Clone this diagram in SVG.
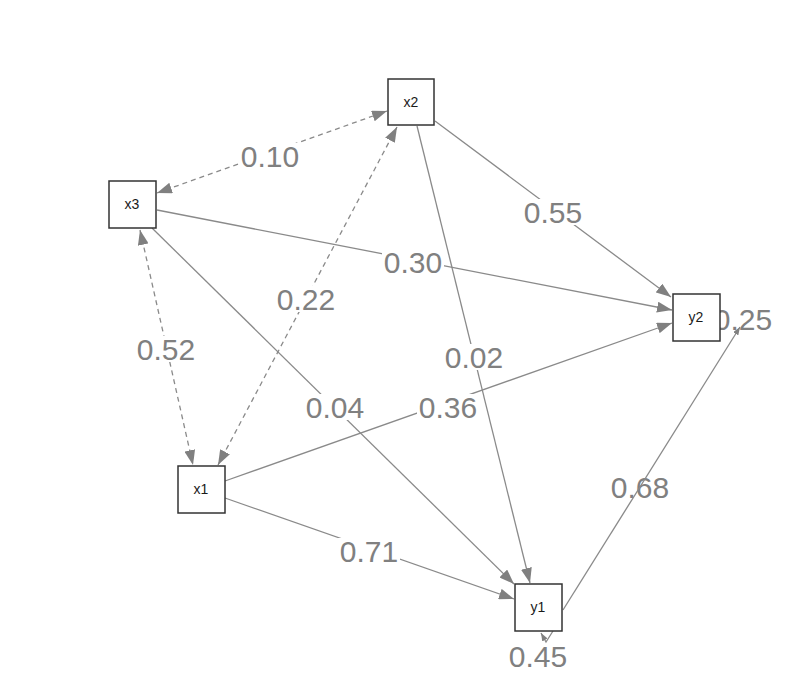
<svg xmlns="http://www.w3.org/2000/svg" width="800" height="698" viewBox="0 0 800 698">
<style>
.e{stroke:#8a8a8a;stroke-width:1.3;fill:none}
.d{stroke-dasharray:5,4}
.lb{fill:#fff}
.lt{font-family:"Liberation Sans",Arial,sans-serif;font-size:30px;fill:#808080;text-anchor:middle}
.box{fill:#fff;stroke:#333;stroke-width:1.5}
.nt{font-family:"Liberation Sans",Arial,sans-serif;font-size:14px;fill:#1a1a1a;text-anchor:middle}
</style>
<defs>
<marker id="ah" viewBox="0 0 15 11" refX="15" refY="5.5" markerWidth="15" markerHeight="11" markerUnits="userSpaceOnUse" orient="auto-start-reverse">
<path d="M0,0 L15,5.5 L0,11 z" fill="#808080"/>
</marker>
<marker id="as" viewBox="0 0 8 6" refX="8" refY="3" markerWidth="8" markerHeight="6" markerUnits="userSpaceOnUse" orient="auto-start-reverse">
<path d="M0,0 L8,3 L0,6 z" fill="#808080"/>
</marker>
</defs>
<rect width="800" height="698" fill="#fff"/>
<g id="connectors">
<line class="e d" x1="157" y1="193" x2="387" y2="111" marker-start="url(#ah)" marker-end="url(#ah)"/>
<line class="e d" x1="397" y1="127" x2="218" y2="465" marker-start="url(#ah)" marker-end="url(#ah)"/>
<line class="e d" x1="140" y1="230" x2="193" y2="465" marker-start="url(#ah)" marker-end="url(#ah)"/>
<line class="e" x1="435" y1="121" x2="671" y2="297" marker-end="url(#ah)"/>
<line class="e" x1="157" y1="210" x2="672" y2="310" marker-end="url(#ah)"/>
<line class="e" x1="225" y1="481" x2="672" y2="323" marker-end="url(#ah)"/>
<line class="e" x1="417" y1="126" x2="530" y2="583" marker-end="url(#ah)"/>
<line class="e" x1="152" y1="228" x2="514" y2="584" marker-end="url(#ah)"/>
<line class="e" x1="225" y1="498" x2="514" y2="599" marker-end="url(#ah)"/>
<path class="e" d="M553,631 L546,642 L541,633" marker-end="url(#as)"/>
<g id="labels">
<rect class="lb" x="239" y="143" width="62" height="26"/><text class="lt" x="270" y="167">0.10</text>
<rect class="lb" x="275" y="286" width="62" height="26"/><text class="lt" x="306" y="310">0.22</text>
<rect class="lb" x="135" y="336" width="62" height="26"/><text class="lt" x="166" y="360">0.52</text>
<rect class="lb" x="522" y="199" width="62" height="26"/><text class="lt" x="553" y="223">0.55</text>
<rect class="lb" x="382" y="249" width="62" height="26"/><text class="lt" x="413" y="273">0.30</text>
<rect class="lb" x="417" y="394" width="62" height="26"/><text class="lt" x="448" y="418">0.36</text>
<rect class="lb" x="443" y="344" width="62" height="26"/><text class="lt" x="474" y="368">0.02</text>
<rect class="lb" x="304" y="394" width="62" height="26"/><text class="lt" x="335" y="418">0.04</text>
<rect class="lb" x="338" y="538" width="62" height="26"/><text class="lt" x="369" y="562">0.71</text>
<text class="lt" x="538" y="667">0.45</text>
<text class="lt" x="640" y="498">0.68</text>
<text class="lt" x="743" y="330">0.25</text>
</g>
<line class="e" x1="563" y1="610" x2="740" y2="327" marker-end="url(#as)"/>
</g>
<g id="x2"><rect class="box" x="388" y="79" width="46" height="46"/><text class="nt" x="411" y="107">x2</text></g>
<g id="x3"><rect class="box" x="109" y="181" width="47" height="47"/><text class="nt" x="132" y="209">x3</text></g>
<g id="x1"><rect class="box" x="178" y="466" width="47" height="47"/><text class="nt" x="201" y="494">x1</text></g>
<g id="y1"><rect class="box" x="515" y="584" width="47" height="47"/><text class="nt" x="538" y="612">y1</text></g>
<g id="y2"><rect class="box" x="673" y="294" width="47" height="47"/><text class="nt" x="696" y="322">y2</text></g>
</svg>
